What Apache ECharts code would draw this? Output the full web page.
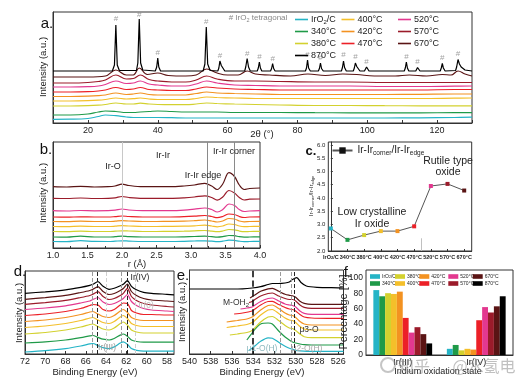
<!DOCTYPE html>
<html><head><meta charset="utf-8">
<script src="https://cdn.jsdelivr.net/npm/echarts@6/dist/echarts.min.js"></script>
<style>html,body{margin:0;padding:0;background:#fff}#c{width:527px;height:389px}</style>
</head><body><div id="c"></div>
<script>
const FONT = 'Liberation Sans, Arial, sans-serif';
const SAMPLES = ['IrO2/C','340°C','380°C','400°C','420°C','470°C','520°C','570°C','670°C','870°C'];
const COLORS = ['#25b4c6','#1f9a48','#d3d12f','#f4bf2a','#f39221','#ec2027','#e3388f','#9b1b2a','#5a1414','#000000'];

// ---------- panel a (XRD) ----------
const A_X = [10,15,20,23,25,28,31,33,35,37.5,40,44,48,51,54,57,62,68,75,85,95,105,115,125,130];
const A_IRO2C = [3.7,3.8,4.5,6.5,8,7.3,6,5.5,5.5,5.5,5.5,5.3,5,5,5,5,5,5,5,5,5,5,5.2,5.5,5.8];
const A_340 = [8,8,9,11,12,11.5,10.5,10.5,11,11.5,12,11.5,11,11,11,11,10.5,10.5,10.5,10.3,10.2,10.2,10.2,10.3,10.3];
const A_380 = [17,17,17.3,17.8,18.5,20,19,19,19.8,19,18.5,18.3,18.3,19,20,19.5,19,18.5,18,17.5,17.5,17.3,17.2,17.2,17.2];
const A_400 = [22,22,22.3,22.8,23.5,25,24,24.3,25,24,23.5,23.5,23.5,24.5,26,25.5,25,24.5,24.5,24.5,24.5,24.5,24.5,24.8,25];
const A_420 = [26.5,26.5,26.8,27.3,28,30,28.5,29,30,28.5,28,28,28,29.5,31,30,29.5,29,28.5,28.5,28.5,28.5,28.7,29,29];
const A_470 = [31,31,31.3,32,33,35.5,33.5,34,35.5,33.5,33,32.5,32.5,34,36,35,34,33.5,33,33,33,33,33,33.5,33.5];
const A_520 = [36,36,36.3,37,38.5,42,39.5,40,42,39,38,37,37,39,42,40,38,37.5,37,37,37,36.5,36.5,36.8,37];
const A_570 = [40,40,40.5,41.5,43,48,44,44.5,48,43.5,42,41,41,43,47,44,42,42,41.5,41,41,40.5,40.5,40.5,40.5];
const A_670_X = [10,20,25,28,31,33,34.7,37,40,43,48,51,54,57,60,63,65.6,68,72,78,83,88,93,97,102,108,112,117,121.5,124,126,128,130];
const A_670_Y = [46,46,47,53,48,48,55,48.5,50,47.5,47,48,54,50,48,48,52,49,48,47,49,47.5,49,48.5,47,47,48,47,48.5,48,52,49,47];
const A_870 = [[10,52],[27,52],[27.6,58],[28,98],[28.4,58],[29,52.5],
[33.9,52.5],[34.3,60],[34.7,104],[35.1,60],[35.7,53],
[39.3,52],[39.7,56],[40,65],[40.3,56],[40.8,52],
[53,52],[53.5,59],[53.9,96],[54.3,59],[55,52.5],
[57.2,52],[57.5,55],[57.8,62],[58.2,57.5],[58.6,57.5],[59.2,52],
[64.9,52],[65.2,56],[65.6,64.5],[66,56],[66.5,52],
[68.5,52],[68.8,55],[69.1,61],[69.4,55],[69.8,52],
[72.3,52],[72.6,54.5],[72.9,59.5],[73.2,54.5],[73.6,52],
[82.3,52],[82.6,55],[82.9,63],[83.2,55],[83.7,52],
[86,52],[86.3,54.5],[86.6,60],[86.9,54.5],[87.4,52],
[92.6,52],[92.9,55.5],[93.2,62],[93.5,55.5],[94,52],
[96,52],[96.3,55],[96.6,60],[97,56.5],[97.4,56.5],[97.9,52],
[99.2,52],[99.5,54],[99.8,56],[100.1,54],[100.5,52],
[110.6,52],[110.9,55],[111.2,61],[111.5,55],[111.9,52],
[113.9,52],[114.2,54],[114.4,55.5],[114.7,54],[115.1,52],
[120.9,52],[121.2,55],[121.5,59.5],[121.8,55],[122.3,52],
[125.3,52.5],[125.6,56],[126,63.5],[126.4,59],[126.9,56],[128,53],[130,52]];
const A_HASH_X = [28,34.7,40,53.9,57.8,65.6,69.1,72.9,82.9,86.6,93.2,96.6,99.8,111.2,114.4,121.5,126];
const A_HASH_Y = [104,108.5,70,101,67,69.5,66.5,64.5,68,65.5,68,66,61.5,66.5,61,65,69];
const A_XTICKS = [20,40,60,80,100,120];

// ---------- panel b (EXAFS) ----------
const B_X = [1.0,1.2,1.4,1.6,1.8,1.9,2.0,2.1,2.3,2.5,2.7,2.9,3.05,3.2,3.3,3.38,3.46,3.55,3.63,3.7,3.77,3.85,4.0];
const B_IRO2C = [6.5,6.3,7.3,6.6,6.5,6.8,7.2,6.9,6.5,6.5,6.5,6.7,7,7.2,6.8,6.3,6.8,7.8,7.6,6.8,6.4,6.5,6.7];
const B_340 = [11,10.8,11.8,11,11,11.3,11.8,11.3,11,11,11,11.2,11.5,11.8,11.3,10.8,11.3,12.5,12.3,11.3,10.9,11,11.2];
const B_380 = [16.5,16.3,16.9,16.5,16.5,16.8,17.2,17,16.5,16.5,16.6,16.8,17.1,17.5,16.9,16.3,17,18.5,18.2,17,16.4,16.5,16.7];
const B_400 = [21.5,21.3,21.8,21.5,21.5,21.8,22.3,22,21.5,21.5,21.6,21.8,22.2,22.8,22,21.2,22,24,23.5,22,21.3,21.5,21.7];
const B_420 = [26.5,26.3,26.8,26.5,26.5,26.8,27.3,27,26.5,26.5,26.6,26.8,27.3,28,27,26,27,29.5,29,27,26.2,26.5,26.7];
const B_470 = [31,30.8,31.2,31,31,31.4,32,31.5,31,31,31,31.3,31.8,32.5,31.5,30.3,31.5,34,33.5,31.5,30.5,31,31.2];
const B_520 = [37.3,37,37.5,37.2,37.3,37.8,39,38,37.3,37.3,37.3,37.8,38.8,40,38.5,36,38.5,44,42.5,38.5,36.5,37,37.3];
const B_570 = [49.7,49.5,50,49.5,49.7,50.2,51.5,50.5,49.7,49.7,49.7,50.2,51,52.2,50.5,47.8,51,57.5,55,50.5,48,48.8,49];
const B_670 = [61.3,61,61.6,61,61.3,62,63.8,62.5,61.3,61.3,61.3,62,63,64.7,62,58.5,64,75.3,71.5,63,58.5,59.5,60];
const B_REF_LINES = [2.0,3.23,3.63];

// ---------- panel c ----------
const C_CATS = ['IrO2/C','340°C','380°C','400°C','420°C','470°C','520°C','570°C','670°C'];
const C_RATIO = [2.85,2.42,2.6,2.75,2.75,2.93,4.45,4.53,4.28];

// ---------- panel d (Ir 4f XPS) ----------
const D_X = [72,70,68,66.5,65.6,65.3,64.8,64.3,63.7,63.2,62.6,62.3,61.9,61.5,61,60.3,59.5,58,57.3];
const D_IRO2C = [2,3.3,5.4,8,10.1,10.5,8.4,6.3,5.4,7.1,10.9,12.2,9.7,5.4,3.7,2.9,2.9,2.9,2.9];
const D_340 = [11,12.1,14,16.3,18.1,18.5,16.6,14.8,14,15.5,18.9,20,17.8,14,12.5,11.8,11.8,11.8,11.8];
const D_380 = [20,21.5,24,27,29.5,30,27.5,25,24,26,30.5,32,29,24,22,21,21,21,21];
const D_400 = [26.5,28,30.5,33.5,36,36.5,34,31.5,30.5,32.5,37,38.5,35.5,30.5,28.5,27.5,27.5,27.5,27.5];
const D_420 = [32.5,34,36.5,39.5,42,42.5,40,37.5,36.5,38.5,43,44.5,41.5,36.5,34.5,33.5,33.5,33.5,33.5];
const D_470 = [38.5,40,42.5,45.5,48.5,49.5,49,44.5,43,44.5,49,51,50.5,43.5,41,39.5,39.5,39,39];
const D_520 = [44.5,46,48.2,51,53,54.5,56.5,52,49.5,50.5,53.5,55.5,59.5,52.5,48.5,45.5,44,43,42.5];
const D_570 = [49.7,51.4,53.6,56.5,58.5,59.7,62.3,57.5,54.5,55.5,58.5,60.7,65.7,57.5,53.5,50.5,49,47.5,47];
const D_670 = [54.7,56.4,58.6,61.5,63.5,64.7,67.3,62.5,59.5,60.5,63.5,65.5,70,62.5,58.5,55.5,54,53,52.5];
const D_870 = [60.7,62.2,64.2,66.7,68.7,69.7,72.3,67.7,64.7,65.7,68.2,69.7,73.3,67.7,64.2,61.7,60.7,59.7,59.2];
const D_REF_LINES = [65.4,64.85,64.0,62.55,61.95,61.1];
const D_REF_COLORS = ['#9a9a9a','#222','#cfcfcf','#9a9a9a','#222','#cfcfcf'];
const D_XTICKS = [58,60,62,64,66,68,70,72];

// ---------- panel e (O 1s XPS) ----------
const E_IRO2C = [[534.4,3.5],[534.1,5.7],[533.3,12.7],[532.6,16.2],[532.2,15.7],[531.6,11.7],[531,7.7],[530.6,5.7],[530.3,4.7],[530,3.7],[529.6,3.2],[528.5,2.7],[525.5,2.7]];
const E_340 = [[534.6,14],[534.1,21],[533.9,24],[533.3,30],[532.6,31],[532.2,30],[531.6,23],[531,17],[530.6,14],[530.3,12],[530,11],[529.6,10],[529.2,9.3],[528.5,9],[527,9],[525.5,9]];
const E_380 = [[536.2,19],[535.5,20],[534.6,21.5],[534.1,23.5],[533.9,25.5],[533.3,32],[532.6,37],[532.2,37.5],[531.6,33.5],[531,28.5],[530.6,26],[530.3,25.5],[530,23.5],[529.6,20],[529.2,17.3],[528.5,16.3],[527,16.3],[525.5,16.3]];
const E_400 = [[536.5,26.5],[535.5,28],[534.6,29.5],[534.1,31.5],[533.9,33],[533.3,39],[532.6,44],[532.2,44.5],[531.6,40.5],[531,36],[530.6,34],[530.3,33.5],[530,31.5],[529.6,27.5],[529.2,25],[528.5,24],[527,24],[525.5,24]];
const E_420 = [[536.5,32],[535.5,33.5],[534.6,35],[534.1,37],[533.9,38.5],[533.3,44],[532.6,48.5],[532.2,49],[531.6,45.5],[531,41],[530.6,39],[530.3,38.5],[530,36.5],[529.6,32.5],[529.2,30],[528.5,29],[527,29],[525.5,29]];
const E_470 = [[535.8,40],[535,41],[534.1,43],[533.9,44.5],[533.3,49],[532.6,52.5],[532.2,52.7],[531.6,49.5],[531,46.5],[530.6,45],[530.3,44.5],[530,43],[529.6,39.5],[529.2,37],[528.5,36],[527,35.7],[525.5,35.7]];
const E_520 = [[535.2,45],[534.6,46],[534.1,47],[533.9,48.5],[533.3,52.5],[532.6,55.5],[532.2,56],[531.6,53],[531,50],[530.6,49],[530.3,48.5],[530,47],[529.6,43],[529.2,40.7],[528.5,39.7],[527,39.7],[525.5,39.7]];
const E_570 = [[534.4,51.5],[534.1,52.5],[533.9,54],[533.3,58],[532.6,60.5],[532.2,61],[531.6,58],[531,55.5],[530.6,54.5],[530.3,54.5],[530,53],[529.6,49],[529.2,46.7],[528.5,45.7],[527,45.7],[525.5,45.7]];
const E_670 = [[534.3,56],[533.9,58.7],[533.3,62.7],[532.6,65.2],[532.2,65.7],[531.6,62.7],[531,59.7],[530.6,58.7],[530.3,58.2],[530,56.7],[529.6,52.7],[529.2,50.7],[528.5,49.7],[527,49.7],[525.5,49.7]];
const E_870 = [[540,65],[538,65],[536,65],[535,65.2],[534.1,66],[533.3,67.3],[532.6,69.5],[532.2,70.5],[531.6,70.5],[531,71],[530.6,72],[530.3,74.5],[529.9,76.3],[529.5,71.5],[529,68],[528,66.7],[526,66.2],[525.5,66]];
const E_REF_LINES = [534.0,531.45,530.4,530.1];
const E_REF_COLORS = ['#111','#9a9a9a','#9a9a9a','#222'];
const E_XTICKS = [526,528,530,532,534,536,538,540];

// ---------- panel f ----------
const F_CATS = ['Ir(III)','Ir(IV)'];
const F_IR3 = [84,76,80,79,82,48,29,36,27,15];
const F_IR4 = [8,13,6,8,7,45,62,55,63,76];

// ================= build =================
const RICH = {
  n:{fontSize:9, fontFamily:FONT, color:'#222', lineHeight:12},
  s:{fontSize:6, fontFamily:FONT, color:'#222', verticalAlign:'bottom', lineHeight:7}
};
function subName(name){ return name==='IrO2/C' ? '{n|IrO}{s|2}{n|/C}' : '{n|'+name+'}'; }

const grids = [
  {left:53, top:12, width:419, height:111},
  {left:53, top:142, width:207, height:106},
  {left:328.3, top:142, width:143.4, height:109},
  {left:25, top:271, width:149, height:83},
  {left:189.5, top:270, width:154, height:84},
  {left:366, top:270, width:147, height:85}
].map(g=>Object.assign({show:true, borderColor:'#333', borderWidth:1, containLabel:false, outerBoundsMode:'none'}, g));

const AX = {lineStyle:{color:'#333', width:1}};
const LBL = {fontFamily:FONT, color:'#222', fontSize:9, margin:3};
function hiddenY(gi, max){
  return {type:'value', gridIndex:gi, min:0, max:max, axisLine:AX, axisLabel:{show:false}, axisTick:{show:false}, splitLine:{show:false}};
}

const xAxis = [
  {type:'value', gridIndex:0, min:10, max:130, axisLine:AX, splitLine:{show:false},
   axisLabel:Object.assign({}, LBL, {fontSize:9, customValues:A_XTICKS}),
   axisTick:{inside:true, length:3, customValues:[10,20,30,40,50,60,70,80,90,100,110,120,130], lineStyle:{color:'#333'}}},
  {type:'value', gridIndex:1, min:1, max:4, interval:0.5, axisLine:AX, splitLine:{show:false},
   axisLabel:Object.assign({}, LBL, {fontSize:9, formatter:v=>v.toFixed(1)}),
   axisTick:{inside:true, length:3, lineStyle:{color:'#333'}},
   minorTick:{show:true, splitNumber:2, length:2, lineStyle:{color:'#333'}}},
  {type:'value', gridIndex:2, min:-0.15, max:8.45, axisLine:AX, splitLine:{show:false},
   axisLabel:{customValues:[0,1,2,3,4,5,6,7,8], fontFamily:FONT, fontSize:5.5, fontWeight:'bold', color:'#222', margin:3,
     formatter:v=>{const n=C_CATS[Math.round(v)]; return n==='IrO2/C'?'{a|IrO}{b|2}{a|/C}':'{a|'+n+'}';},
     rich:{a:{fontSize:5.5, fontWeight:'bold', fontFamily:FONT, color:'#222'}, b:{fontSize:4, fontWeight:'bold', fontFamily:FONT, color:'#222', verticalAlign:'bottom'}}},
   axisTick:{inside:true, length:2, customValues:[0,1,2,3,4,5,6,7,8], lineStyle:{color:'#333'}}},
  {type:'value', gridIndex:3, min:57.3, max:72, inverse:true, axisLine:AX, splitLine:{show:false},
   axisLabel:Object.assign({}, LBL, {customValues:D_XTICKS}),
   axisTick:{inside:true, length:3, customValues:D_XTICKS, lineStyle:{color:'#333'}}},
  {type:'value', gridIndex:4, min:525.5, max:540, inverse:true, axisLine:AX, splitLine:{show:false},
   axisLabel:Object.assign({}, LBL, {customValues:E_XTICKS}),
   axisTick:{inside:true, length:3, customValues:E_XTICKS, lineStyle:{color:'#333'}}},
  {type:'category', gridIndex:5, data:F_CATS, axisLine:AX, axisTick:{show:false},
   axisLabel:Object.assign({}, LBL, {fontSize:9})}
];
const yAxis = [
  hiddenY(0,111), hiddenY(1,106),
  {type:'value', gridIndex:2, min:2, max:6.11, interval:0.5, axisLine:AX, splitLine:{show:false},
   axisLabel:{fontFamily:FONT, fontSize:6, color:'#222', margin:3, showMaxLabel:false, formatter:v=>v.toFixed(1)},
   axisTick:{inside:true, length:2, lineStyle:{color:'#333'}}},
  hiddenY(3,83), hiddenY(4,84),
  {type:'value', gridIndex:5, min:0, max:110, interval:20, axisLine:AX, splitLine:{show:false},
   axisLabel:Object.assign({}, LBL, {fontSize:8.5, showMaxLabel:false}),
   axisTick:{inside:true, length:3, lineStyle:{color:'#333'}}}
];

const series = [];
function line(gi, name, data, color, smooth, extra){
  series.push(Object.assign({type:'line', name:name, xAxisIndex:gi, yAxisIndex:gi, data:data,
    symbol:'none', showSymbol:false, smooth:smooth, silent:true, animation:false,
    lineStyle:{color:color, width:1.2}, itemStyle:{color:color}}, extra||{}));
}
function refLines(vals, cols, type, widths){
  return {silent:true, symbol:'none', label:{show:false}, animation:false,
    data: vals.map((v,i)=>({xAxis:v, lineStyle:{color:cols[i], type:type, width:widths?widths[i]:1}}))};
}

// a
const aAm = [A_IRO2C,A_340,A_380,A_400,A_420,A_470,A_520,A_570];
aAm.forEach((arr,i)=>line(0, SAMPLES[i], A_X.map((x,j)=>[x,arr[j]]), COLORS[i], 0.4));
line(0, SAMPLES[8], A_670_X.map((x,j)=>[x,A_670_Y[j]]), COLORS[8], 0.4);
line(0, SAMPLES[9], A_870, COLORS[9], false);
series.push({type:'scatter', xAxisIndex:0, yAxisIndex:0, silent:true, symbolSize:1,
  data:A_HASH_X.map((x,i)=>[x,A_HASH_Y[i]]), itemStyle:{color:'rgba(0,0,0,0)'},
  label:{show:true, position:'inside', formatter:'#', color:'#8a8a8a', fontSize:8, fontFamily:FONT}});

// b
const bArr = [B_IRO2C,B_340,B_380,B_400,B_420,B_470,B_520,B_570,B_670];
bArr.forEach((arr,i)=>line(1, 'b '+SAMPLES[i], B_X.map((x,j)=>[x,arr[j]]), COLORS[i], 0.35,
  i===0?{markLine:refLines(B_REF_LINES, ['#c8c8c8','#8a8a8a','#8a8a8a'], 'solid')}:null));

// c
series.push({type:'line', name:'ratio', xAxisIndex:2, yAxisIndex:2, silent:true,
  data:C_RATIO.map((v,i)=>({value:[i,v], itemStyle:{color:COLORS[i]}})),
  symbol:'rect', symbolSize:4, showSymbol:true,
  lineStyle:{color:'#555', width:1}, itemStyle:{color:'#111'},
  markLine:{silent:true, symbol:'none', label:{show:false}, lineStyle:{color:'#c0c0c0', type:'solid', width:1},
    data:[[{coord:[5.4,2.0]},{coord:[5.4,2.48]}]]}});

// d
const dArr = [D_IRO2C,D_340,D_380,D_400,D_420,D_470,D_520,D_570,D_670,D_870];
dArr.forEach((arr,i)=>line(3, 'd '+SAMPLES[i], D_X.map((x,j)=>[x,arr[j]]), COLORS[i], 0.25,
  i===0?{markLine:refLines(D_REF_LINES, D_REF_COLORS, 'dashed')}:null));

// e
const eArr = [E_IRO2C,E_340,E_380,E_400,E_420,E_470,E_520,E_570,E_670,E_870];
eArr.forEach((arr,i)=>line(4, 'e '+SAMPLES[i], arr, COLORS[i], 0.25,
  i===0?{markLine:refLines(E_REF_LINES, E_REF_COLORS, 'dashed', [1.6,1,1,1])}:null));

// f
SAMPLES.forEach((n,i)=>series.push({type:'bar', name:n, xAxisIndex:5, yAxisIndex:5, silent:true,
  data:[F_IR3[i],F_IR4[i]], itemStyle:{color:COLORS[i]}, barGap:'0%', barCategoryGap:'20%'}));

// legends
const legends = [];
const aCols = [[SAMPLES[0],SAMPLES[1],SAMPLES[2],SAMPLES[9]],[SAMPLES[3],SAMPLES[4],SAMPLES[5]],[SAMPLES[6],SAMPLES[7],SAMPLES[8]]];
const aLeft = [295,341.5,398];
aCols.forEach((d,i)=>legends.push({data:d, orient:'vertical', left:aLeft[i], top:13.5, padding:0, itemGap:0,
  itemWidth:13, itemHeight:1.6, icon:'rect', selectedMode:false, formatter:subName,
  textStyle:{fontFamily:FONT, fontSize:9, color:'#222', lineHeight:10, padding:[0,0,0,-2], rich:RICH}}));
const fCols = [[SAMPLES[0],SAMPLES[1]],[SAMPLES[2],SAMPLES[3]],[SAMPLES[4],SAMPLES[5]],[SAMPLES[6],SAMPLES[7]],[SAMPLES[8],SAMPLES[9]]];
const fLeft = [370,395,419.3,448.3,472.7];
const FR = {n:{fontSize:5, fontFamily:FONT, color:'#222', lineHeight:6}, s:{fontSize:3.5, fontFamily:FONT, color:'#222', verticalAlign:'bottom', lineHeight:4}};
fCols.forEach((d,i)=>legends.push({data:d, orient:'vertical', left:fLeft[i], top:273.5, padding:0, itemGap:1,
  itemWidth:10, itemHeight:4.6, icon:'rect', selectedMode:false, formatter:subName,
  textStyle:{fontFamily:FONT, fontSize:5, color:'#222', lineHeight:5, padding:[0,0,0,-3], rich:FR}}));
legends.push({data:['ratio'], left:331.5, top:145.5, padding:0, itemWidth:20, itemHeight:8, selectedMode:false,
  formatter:()=>'{n|Ir-Ir}{s|corner}{n|/Ir-Ir}{s|edge}',
  textStyle:{fontFamily:FONT, fontSize:10, color:'#222', rich:{n:{fontSize:10, fontFamily:FONT, color:'#222', lineHeight:13}, s:{fontSize:6.5, fontFamily:FONT, color:'#222', verticalAlign:'bottom', lineHeight:7}}}});

// texts
function T(text, x, y, size, color, extra){
  return {type:'text', x:x, y:y, z:100, silent:true, rotation:(extra&&extra.rot)||0,
    style:Object.assign({text:text, fontSize:size, fill:color||'#222', fontFamily:FONT, align:'center', verticalAlign:'middle'}, (extra&&extra.style)||{})};
}
const V = Math.PI/2;
const graphic = [
  T('a.', 47, 24, 15, '#111'),
  T('b.', 46, 150, 15, '#111'),
  T('c.', 311, 151, 13, '#111', {style:{fontWeight:'bold'}}),
  T('d.', 20, 272, 15, '#111'),
  T('e.', 183, 276, 15, '#111'),
  T('f.', 348, 273, 15, '#111'),
  T('{g|# IrO}{h|2}{g| tetragonal}', 258, 18, 8, '#888', {style:{rich:{g:{fontSize:8, fill:'#888', fontFamily:FONT, lineHeight:10}, h:{fontSize:5.5, fill:'#888', fontFamily:FONT, verticalAlign:'bottom', lineHeight:6}}}}),
  T('2θ (°)', 262, 134, 9.5),
  T('Intensity (a.u.)', 43, 67, 9.5, '#222', {rot:V}),
  T('Intensity (a.u.)', 43, 193, 9.5, '#222', {rot:V}),
  T('Intensity (a.u.)', 19, 313, 9.5, '#222', {rot:V}),
  T('Intensity (a.u.)', 182, 312, 9.5, '#222', {rot:V}),
  T('Percentage [%]', 343.5, 312, 11, '#222', {rot:V}),
  T('Ir-O', 113, 167, 9),
  T('Ir-Ir', 163, 156, 9),
  T('Ir-Ir edge', 203, 176, 9),
  T('Ir-Ir corner', 234, 152, 9),
  T('r (Å)', 137, 264, 9.5),
  T('{n|Ir-Ir}{s|corner}{n|/Ir-Ir}{s|edge}', 311, 196, 6, '#222', {rot:V, style:{rich:{n:{fontSize:6, fontFamily:FONT, fill:'#222', lineHeight:8}, s:{fontSize:4, fontFamily:FONT, fill:'#222', verticalAlign:'bottom', lineHeight:4}}}}),
  T('Low crystalline', 372, 212, 10.5),
  T('Ir oxide', 372, 224, 10.5),
  T('Rutile type', 448, 161, 10.5),
  T('oxide', 448, 172.5, 10.5),
  T('Ir(IV)', 140, 278, 8.5, '#222'),
  T('Ir(0)', 146, 306, 8.5, '#bdbdbd'),
  T('Ir(III)', 107, 348, 8.5, '#999'),
  T('Binding Energy (eV)', 95, 372, 9.5),
  T('Binding Energy (eV)', 262, 372, 9.5),
  T('{n|M-OH}{s|2}', 236, 303, 8.5, '#333', {style:{rich:{n:{fontSize:8.5, fontFamily:FONT, fill:'#333', lineHeight:11}, s:{fontSize:6, fontFamily:FONT, fill:'#333', verticalAlign:'bottom', lineHeight:6}}}}),
  T('μ3-O', 309, 330, 8.5, '#333'),
  T('μ1-O(H)', 262, 349, 8.5, '#8fb9bf'),
  T('μ2-O(H)', 307, 349, 8.5, '#a8a8a8'),
  T('Iridium oxidation state', 438, 372, 9),
  {type:'circle', shape:{cx:388, cy:365, r:7}, z:101, silent:true, style:{fill:'none', stroke:'rgba(140,140,140,0.5)', lineWidth:2}},
  T('知乎', 414, 366, 16, 'rgba(130,130,130,0.5)', {style:{fontFamily:'Noto Sans CJK SC'}}),
  T('@水氢电', 484, 366, 16, 'rgba(130,130,130,0.5)', {style:{fontFamily:'Noto Sans CJK SC'}})
];

const chart = echarts.init(document.getElementById('c'), null, {renderer:'canvas'});
chart.setOption({animation:false, backgroundColor:'#fff', textStyle:{fontFamily:FONT},
  grid:grids, xAxis:xAxis, yAxis:yAxis, series:series, legend:legends, graphic:graphic});
</script>
</body></html>
